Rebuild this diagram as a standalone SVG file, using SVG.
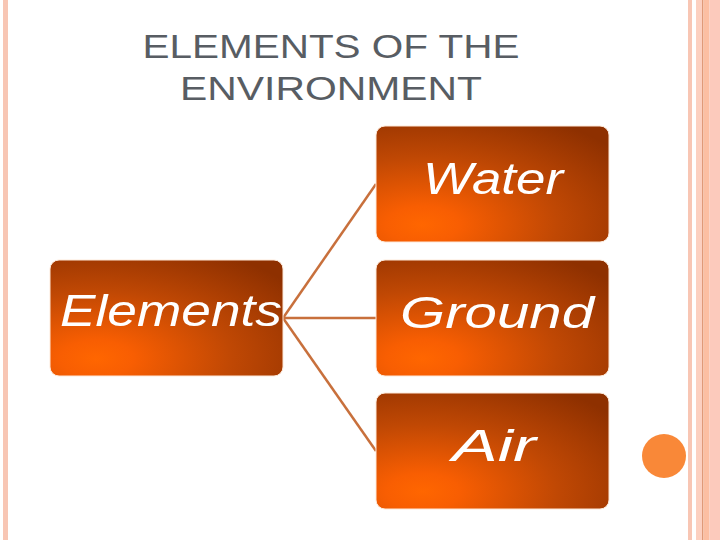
<svg xmlns="http://www.w3.org/2000/svg" width="720" height="540" viewBox="0 0 720 540">
  <defs>
    <radialGradient id="boxGrad" cx="0.2" cy="0.85" r="1.05" fx="0.2" fy="0.85" gradientUnits="objectBoundingBox">
      <stop offset="0" stop-color="#ff6600"/>
      <stop offset="0.15" stop-color="#f85e02"/>
      <stop offset="0.55" stop-color="#c04804"/>
      <stop offset="1" stop-color="#8e3000"/>
    </radialGradient>
    <style>
      .box { fill: url(#boxGrad); stroke: #fde8d8; stroke-width: 1; }
      .label { font-family: "Liberation Sans", "DejaVu Sans", sans-serif; font-style: italic; fill: #ffffff; font-size: 44px; }
      .title { font-family: "Liberation Sans", "DejaVu Sans", sans-serif; fill: #585d63; font-size: 33px; }
      .conn { stroke: #c8703c; stroke-width: 2.5; fill: none; }
    </style>
  </defs>
  <rect x="0" y="0" width="720" height="540" fill="#ffffff"/>
  <!-- page borders -->
  <g id="borders">
    <rect x="3" y="0" width="5" height="540" fill="#f8c6b4"/>
    <rect x="688" y="0" width="4" height="540" fill="#f8c6b4"/>
    <rect x="696" y="0" width="6" height="540" fill="#fcd0c0"/>
    <rect x="702" y="0" width="1.5" height="540" fill="#e09a78"/>
    <rect x="703.5" y="0" width="6" height="540" fill="#fcbfa2"/>
    <rect x="709.5" y="0" width="10.5" height="540" fill="#fccabc"/>
    <circle cx="664" cy="456" r="22" fill="#f98838"/>
  </g>
  <g id="title">
    <text class="title" x="331" y="58" text-anchor="middle" textLength="377" lengthAdjust="spacingAndGlyphs">ELEMENTS OF THE</text>
    <text class="title" x="331" y="100" text-anchor="middle" textLength="302" lengthAdjust="spacingAndGlyphs">ENVIRONMENT</text>
  </g>
  <g id="connectors">
    <line class="conn" x1="283" y1="318" x2="376" y2="184"/>
    <line class="conn" x1="283" y1="318" x2="376" y2="318"/>
    <line class="conn" x1="283" y1="318" x2="376" y2="451"/>
  </g>
  <g id="elements">
    <rect class="box" x="50" y="260" width="233" height="116" rx="9"/>
    <text class="label" x="60" y="326" textLength="222" lengthAdjust="spacingAndGlyphs">Elements</text>
  </g>
  <g id="water">
    <rect class="box" x="376" y="126" width="233" height="116" rx="9"/>
    <text class="label" x="493" y="194" text-anchor="middle" textLength="140" lengthAdjust="spacingAndGlyphs">Water</text>
  </g>
  <g id="ground">
    <rect class="box" x="376" y="260" width="233" height="116" rx="9"/>
    <text class="label" x="497" y="328" text-anchor="middle" textLength="194" lengthAdjust="spacingAndGlyphs">Ground</text>
  </g>
  <g id="air">
    <rect class="box" x="376" y="393" width="233" height="116" rx="9"/>
    <text class="label" x="494" y="461" text-anchor="middle" textLength="84" lengthAdjust="spacingAndGlyphs">Air</text>
  </g>
</svg>
